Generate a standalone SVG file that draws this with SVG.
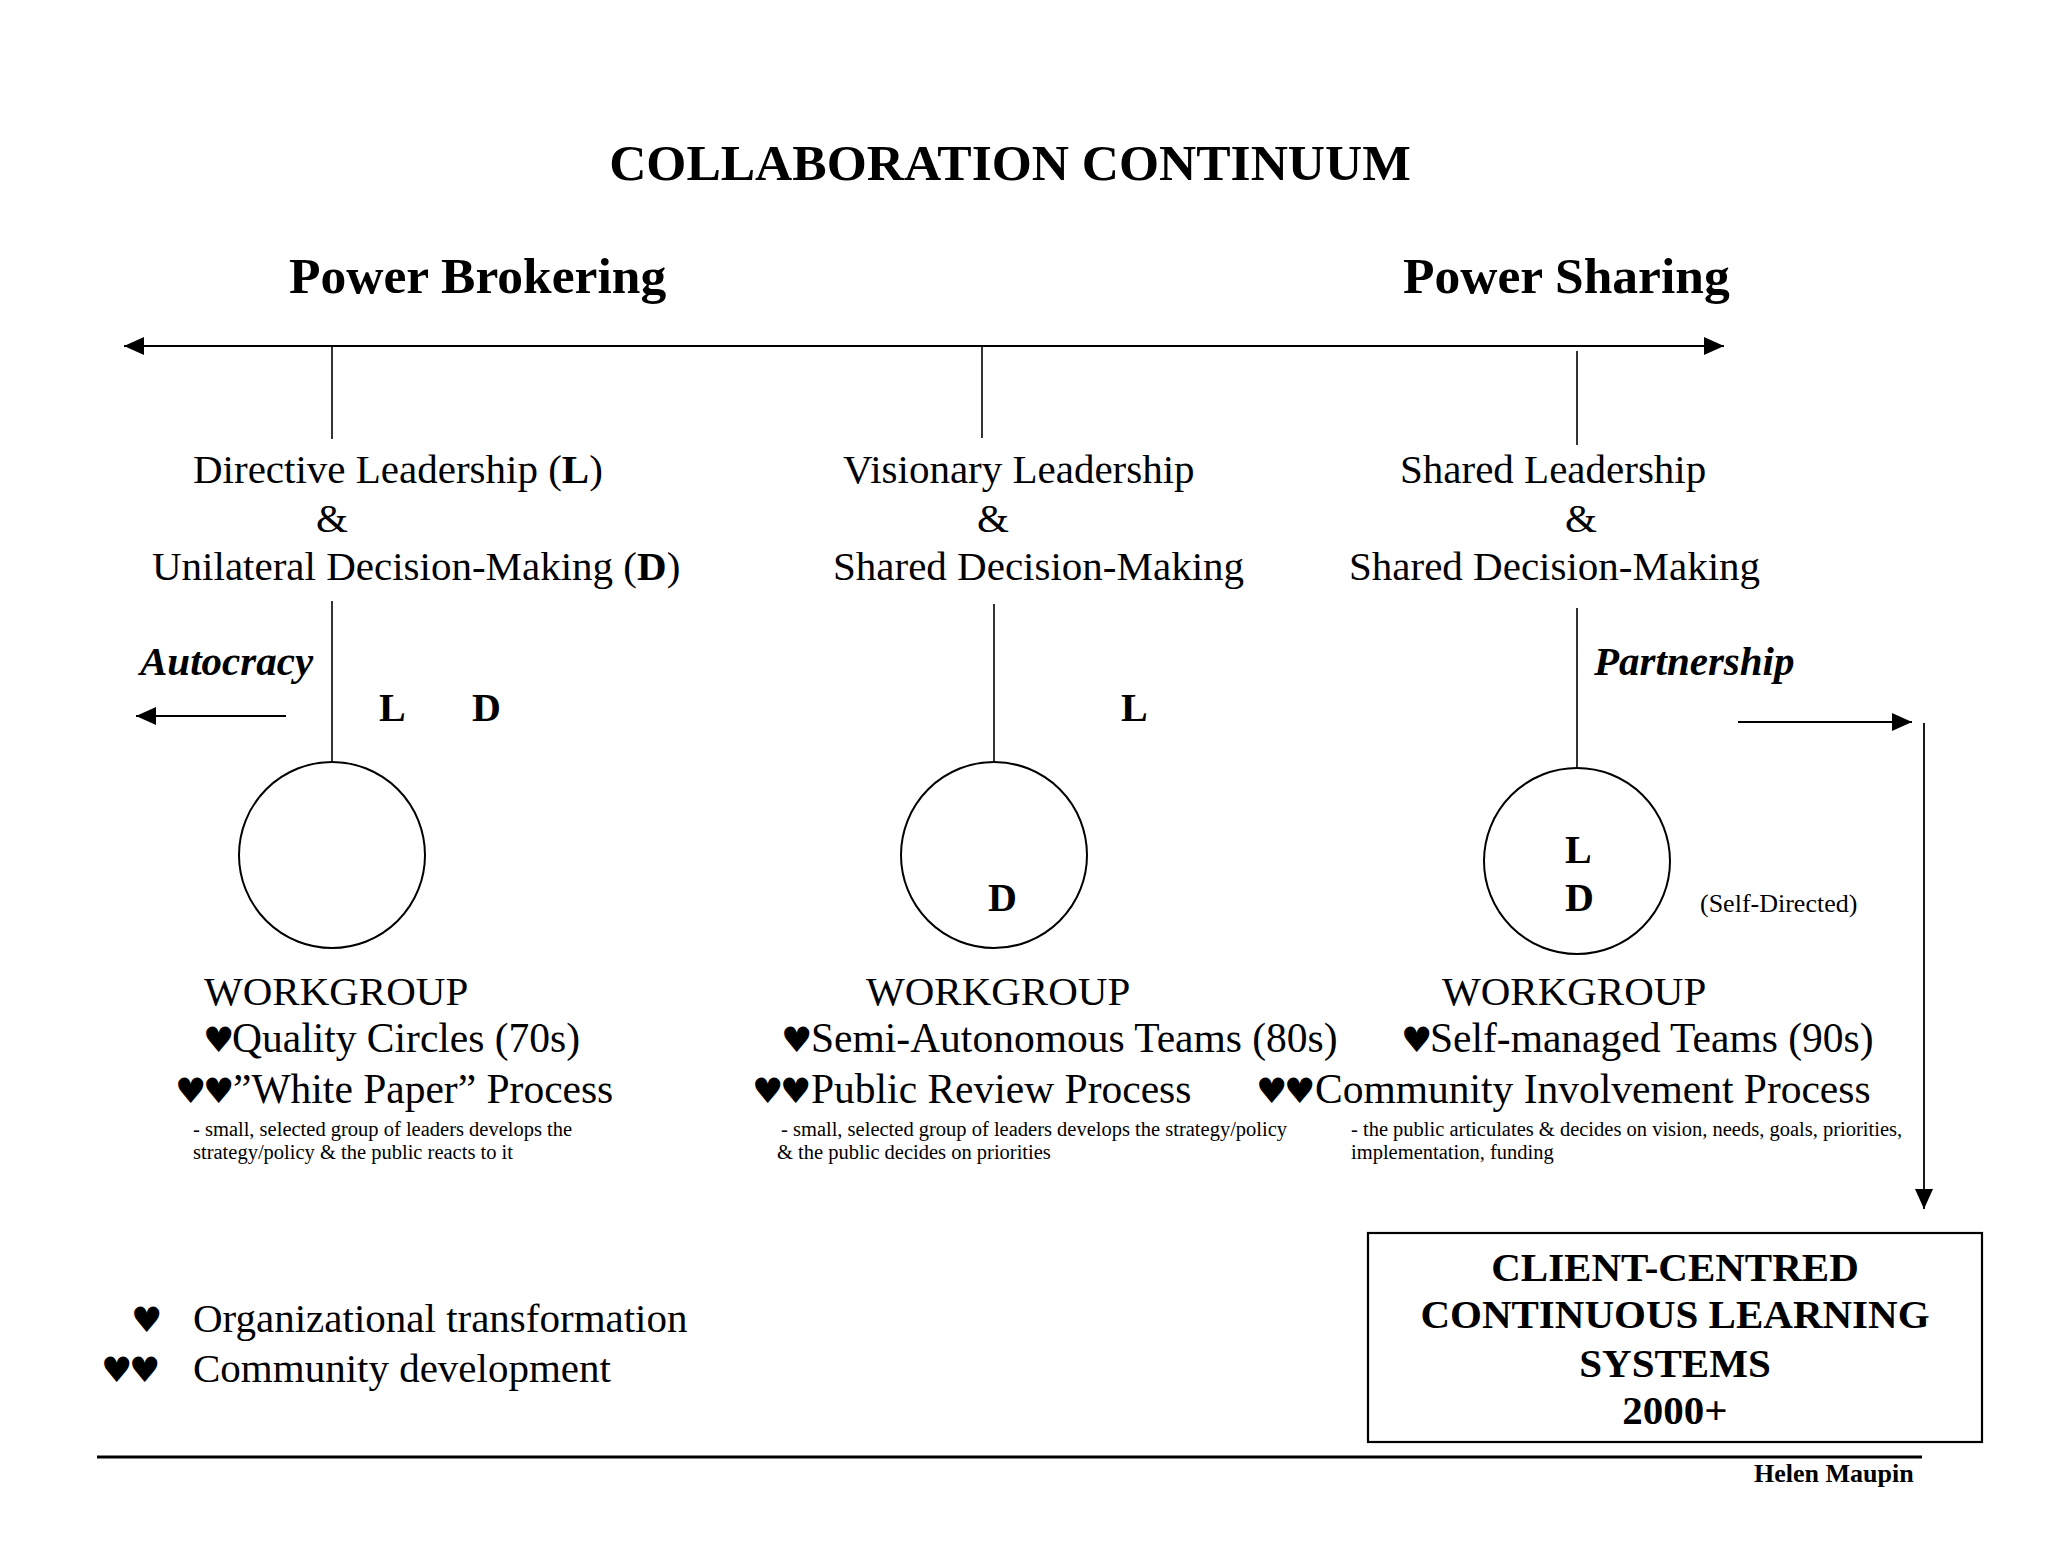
<svg xmlns="http://www.w3.org/2000/svg" width="2048" height="1555" viewBox="0 0 2048 1555">
<style>
text{font-family:"Liberation Serif","Times New Roman",serif;fill:#000}
.t41{font-size:41px}
.w41{font-size:41.5px}
.b{font-weight:bold}
.bi{font-weight:bold;font-style:italic;font-size:41px}
.ld{font-weight:bold;font-size:40px}
.sm{font-size:20.5px}
.h{font-family:"DejaVu Sans",sans-serif;font-size:35px}
.ln{stroke:#000;fill:none}
</style>
<defs>
<marker id="ah" markerUnits="userSpaceOnUse" markerWidth="22" markerHeight="20" refX="20" refY="9" orient="auto-start-reverse">
<path d="M0,0 L20,9 L0,18 z" fill="#000"/>
</marker>
</defs>
<rect width="2048" height="1555" fill="#fff"/>

<g id="title">
<text x="1010" y="180" class="b" font-size="51.5" text-anchor="middle">COLLABORATION CONTINUUM</text>
</g>
<g id="pole-left"><text x="289" y="293" class="b" font-size="51.5">Power Brokering</text></g>
<g id="pole-right"><text x="1403" y="293" class="b" font-size="51.5">Power Sharing</text></g>

<g id="connectors">
<line class="ln" x1="124" y1="346" x2="1724" y2="346" stroke-width="2.2" marker-start="url(#ah)" marker-end="url(#ah)"/>
<line class="ln" x1="332" y1="346" x2="332" y2="439" stroke-width="1.6"/>
<line class="ln" x1="982" y1="346" x2="982" y2="438" stroke-width="1.6"/>
<line class="ln" x1="1577" y1="351" x2="1577" y2="445" stroke-width="1.6"/>
<line class="ln" x1="332" y1="601" x2="332" y2="762" stroke-width="1.6"/>
<line class="ln" x1="994" y1="604" x2="994" y2="762" stroke-width="1.6"/>
<line class="ln" x1="1577" y1="608" x2="1577" y2="768" stroke-width="1.6"/>
<line class="ln" x1="286" y1="716" x2="136" y2="716" stroke-width="2" marker-end="url(#ah)"/>
<line class="ln" x1="1738" y1="722" x2="1912" y2="722" stroke-width="2" marker-end="url(#ah)"/>
<line class="ln" x1="1924" y1="723" x2="1924" y2="1209" stroke-width="1.8" marker-end="url(#ah)"/>
<line class="ln" x1="97" y1="1457" x2="1922" y2="1457" stroke-width="3.2"/>
</g>

<g id="stage-directive">
<text x="193" y="483" class="t41">Directive Leadership (<tspan class="b">L</tspan>)</text>
<text x="316" y="532" class="t41">&amp;</text>
<text x="152" y="580" class="t41">Unilateral Decision-Making (<tspan class="b">D</tspan>)</text>
<text x="140" y="675" class="bi">Autocracy</text>
<text x="379" y="721" class="ld">L</text>
<text x="472" y="721" class="ld">D</text>
<circle cx="332" cy="855" r="93" class="ln" stroke-width="2"/>
<text x="204" y="1005" class="t41">WORKGROUP</text>
<text x="203" y="1052" class="h">♥</text>
<text x="232" y="1052" class="w41">Quality Circles (70s)</text>
<text x="175 203" y="1103" class="h">♥♥</text>
<text x="233" y="1103" class="w41">”White Paper” Process</text>
<text x="193" y="1136" class="sm">- small, selected group of leaders develops the</text>
<text x="193" y="1159" class="sm">strategy/policy &amp; the public reacts to it</text>
</g>

<g id="stage-visionary">
<text x="843" y="483" class="t41">Visionary Leadership</text>
<text x="977" y="532" class="t41">&amp;</text>
<text x="833" y="580" class="t41">Shared Decision-Making</text>
<text x="1121" y="721" class="ld">L</text>
<circle cx="994" cy="855" r="93" class="ln" stroke-width="2"/>
<text x="988" y="911" class="ld">D</text>
<text x="866" y="1005" class="t41">WORKGROUP</text>
<text x="781" y="1052" class="h">♥</text>
<text x="811" y="1052" class="w41">Semi-Autonomous Teams (80s)</text>
<text x="752 780" y="1103" class="h">♥♥</text>
<text x="811" y="1103" class="w41">Public Review Process</text>
<text x="781" y="1136" class="sm">- small, selected group of leaders develops the strategy/policy</text>
<text x="777" y="1159" class="sm">&amp; the public decides on priorities</text>
</g>

<g id="stage-shared">
<text x="1400" y="483" class="t41">Shared Leadership</text>
<text x="1565" y="532" class="t41">&amp;</text>
<text x="1349" y="580" class="t41">Shared Decision-Making</text>
<text x="1594" y="675" class="bi">Partnership</text>
<circle cx="1577" cy="861" r="93" class="ln" stroke-width="2"/>
<text x="1565" y="863" class="ld">L</text>
<text x="1565" y="911" class="ld">D</text>
<text x="1700" y="912" font-size="26">(Self-Directed)</text>
<text x="1442" y="1005" class="t41">WORKGROUP</text>
<text x="1401" y="1052" class="h">♥</text>
<text x="1430" y="1052" class="w41">Self-managed Teams (90s)</text>
<text x="1256 1284" y="1103" class="h">♥♥</text>
<text x="1315" y="1103" class="w41">Community Involvement Process</text>
<text x="1351" y="1136" class="sm">- the public articulates &amp; decides on vision, needs, goals, priorities,</text>
<text x="1351" y="1159" class="sm">implementation, funding</text>
</g>

<g id="outcome-box">
<rect x="1368" y="1233" width="614" height="209" class="ln" stroke-width="2.2"/>
<text x="1675" y="1281" class="b" font-size="41" text-anchor="middle">CLIENT-CENTRED</text>
<text x="1675" y="1328" class="b" font-size="41" text-anchor="middle">CONTINUOUS LEARNING</text>
<text x="1675" y="1377" class="b" font-size="41" text-anchor="middle">SYSTEMS</text>
<text x="1675" y="1424" class="b" font-size="41" text-anchor="middle">2000+</text>
</g>

<g id="legend">
<text x="131" y="1332" class="h">♥</text>
<text x="193" y="1332" class="t41">Organizational transformation</text>
<text x="101 129" y="1382" class="h">♥♥</text>
<text x="193" y="1382" class="t41">Community development</text>
</g>

<g id="credit"><text x="1754" y="1482" class="b" font-size="26">Helen Maupin</text></g>
</svg>
